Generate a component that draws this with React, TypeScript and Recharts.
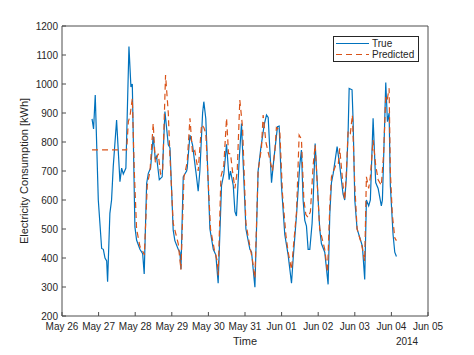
import { LineChart, Line, XAxis, YAxis, Legend, Label } from "recharts";

// hours since May 26 00:00
const trueHours = [19.7, 20.7, 21.8, 23.8, 26.0, 27.1, 28.2, 29.3, 29.9, 31.4, 32.5, 33.6, 35.8, 38.0, 39.1, 40.2, 41.9, 43.9, 45.2, 46.1, 47.8, 48.9, 51.1, 52.9, 53.9, 55.5, 56.6, 58.1, 59.8, 61.2, 62.0, 63.8, 65.7, 67.5, 69.7, 70.8, 72.9, 74.0, 76.2, 77.3, 78.0, 79.5, 81.7, 82.1, 83.9, 85.6, 88.2, 89.3, 90.4, 92.2, 93.0, 94.3, 97.0, 99.2, 100.9, 102.4, 104.6, 106.1, 107.9, 109.6, 110.5, 112.3, 113.4, 114.4, 116.2, 117.7, 120.6, 123.2, 124.3, 126.5, 128.6, 130.4, 132.6, 134.1, 135.2, 137.4, 138.9, 141.3, 142.4, 143.9, 146.1, 148.3, 150.5, 151.6, 153.8, 155.9, 157.0, 158.1, 159.2, 160.3, 161.4, 162.5, 164.0, 164.7, 166.0, 169.0, 170.1, 172.3, 174.5, 175.6, 176.7, 177.8, 180.4, 182.1, 184.3, 185.4, 186.5, 187.6, 188.3, 190.2, 190.9, 192.0, 193.5, 195.3, 197.0, 198.5, 199.6, 201.1, 202.2, 204.0, 205.7, 207.3, 209.4, 210.1, 211.6, 212.3, 213.4, 214.5, 215.3, 217.1, 218.2, 219.3];
const trueValues = [880, 845, 962, 600, 433, 430, 400, 390, 318, 554, 600, 715, 876, 663, 710, 690, 710, 1129, 990, 1000, 508, 462, 430, 415, 345, 657, 692, 710, 820, 740, 750, 670, 680, 905, 790, 780, 497, 460, 430, 420, 361, 680, 700, 710, 824, 790, 680, 630, 700, 900, 939, 880, 500, 430, 410, 313, 650, 690, 792, 670, 700, 650, 560, 545, 740, 864, 500, 430, 420, 299, 700, 780, 860, 893, 885, 660, 740, 853, 855, 650, 480, 410, 313, 400, 550, 720, 772, 600, 530, 510, 430, 430, 520, 600, 795, 500, 450, 420, 309, 550, 660, 690, 784, 720, 620, 600, 680, 830, 985, 980, 870, 600, 500, 470, 440, 326, 600, 580, 600, 882, 660, 640, 580, 600, 870, 1005, 870, 900, 650, 480, 420, 405];

const predHours = [19.7, 42.4, 43.5, 44.6, 46.1, 47.4, 48.9, 51.1, 53.3, 54.0, 55.9, 57.7, 59.8, 61.2, 63.1, 64.6, 66.0, 67.9, 69.7, 70.8, 72.9, 76.2, 78.0, 80.0, 82.1, 83.9, 85.6, 87.1, 89.3, 91.5, 93.0, 94.3, 97.4, 100.2, 101.8, 102.4, 104.2, 106.1, 107.9, 109.2, 110.5, 111.8, 113.4, 114.9, 116.6, 118.4, 120.6, 123.2, 124.7, 126.5, 128.6, 130.8, 131.9, 133.7, 135.4, 136.7, 138.0, 139.6, 140.6, 142.8, 144.6, 146.8, 148.3, 150.5, 151.6, 153.8, 155.5, 157.0, 158.6, 159.9, 161.4, 162.9, 164.7, 166.0, 169.0, 172.3, 174.1, 175.6, 176.7, 179.5, 181.1, 182.1, 184.3, 185.4, 186.5, 187.6, 189.1, 190.4, 192.0, 193.5, 196.3, 198.5, 199.6, 201.1, 202.2, 204.0, 205.7, 207.3, 209.4, 210.9, 212.3, 213.4, 214.5, 215.3, 216.6, 218.2, 219.3];
const predValues = [773, 773, 870, 890, 950, 700, 500, 440, 420, 410, 650, 700, 864, 730, 760, 690, 700, 1031, 900, 750, 520, 450, 360, 680, 730, 882, 760, 770, 700, 860, 850, 830, 500, 420, 390, 340, 680, 720, 882, 760, 760, 700, 640, 700, 945, 850, 520, 440, 400, 330, 700, 780, 893, 800, 760, 730, 700, 770, 850, 840, 620, 480, 420, 360, 430, 560, 824, 810, 600, 550, 540, 560, 720, 790, 500, 430, 350, 580, 680, 720, 720, 778, 650, 600, 700, 840, 830, 893, 650, 500, 450, 390, 680, 640, 680, 807, 720, 670, 650, 760, 960, 950, 985, 700, 550, 470, 460];

const xTicks = [0, 24, 48, 72, 96, 120, 144, 168, 192, 216, 240];
const xTickLabels = ["May 26", "May 27", "May 28", "May 29", "May 30", "May 31", "Jun 01", "Jun 02", "Jun 03", "Jun 04", "Jun 05"];
const yTicks = [200, 300, 400, 500, 600, 700, 800, 900, 1000, 1100, 1200];

const trueData = trueHours.map((t, i) => ({ t, v: trueValues[i] }));
const predData = predHours.map((t, i) => ({ t, v: predValues[i] }));

const font = "'Liberation Sans', Arial, sans-serif";
const axisColor = "#4d4d4d";
const textColor = "#262626";
const tickStyle = { fontSize: 10, fill: textColor, fontFamily: font };

function LegendBox() {
  const row = (color: string, dash: string | undefined, name: string) => (
    <div style={{ display: "flex", alignItems: "center", height: 11 }}>
      <svg width={36} height={11}>
        <line x1={2} y1={5.5} x2={35} y2={5.5} stroke={color} strokeWidth={1.2} strokeDasharray={dash} />
      </svg>
      <span style={{ fontSize: 10, color: textColor, fontFamily: font, marginLeft: 2, lineHeight: "11px" }}>{name}</span>
    </div>
  );
  return (
    <div style={{ border: "1px solid #262626", background: "#fff", padding: "1px 0", boxSizing: "border-box", width: 86, height: 26 }}>
      {row("#0072BD", undefined, "True")}
      {row("#D95319", "6 4", "Predicted")}
    </div>
  );
}

export default function App() {
  return (
    <div style={{ position: "absolute", left: 0, top: 0, width: 474, height: 355, background: "#fff" }}>
      <LineChart width={474} height={355} margin={{ top: 25, right: 45, bottom: 9, left: 22 }}>
        <XAxis
          xAxisId="b"
          type="number"
          dataKey="t"
          domain={[0, 240]}
          ticks={xTicks}
          interval={0}
          tickFormatter={(v: number) => xTickLabels[xTicks.indexOf(v)]}
          height={30}
          tickSize={-4}
          tickMargin={11}
          tick={tickStyle}
          stroke={axisColor}
          tickLine={{ stroke: axisColor }}
        >
          <Label value="Time" position="insideBottom" offset={1} style={{ fontSize: 11, fill: textColor, fontFamily: font }} />
          <Label value="2014" position="insideBottom" offset={1} dx={162} style={{ fontSize: 10, fill: textColor, fontFamily: font }} />
        </XAxis>
        <XAxis
          xAxisId="top"
          orientation="top"
          type="number"
          domain={[0, 240]}
          ticks={xTicks}
          interval={0}
          height={1}
          tickSize={-4}
          tickFormatter={() => ""}
          stroke={axisColor}
        />
        <YAxis
          yAxisId="l"
          domain={[200, 1200]}
          ticks={yTicks}
          interval={0}
          width={40}
          tickSize={-4}
          tickMargin={8}
          tick={tickStyle}
          stroke={axisColor}
        >
          <Label
            value="Electricity Consumption [kWh]"
            angle={-90}
            position="insideLeft"
            offset={2}
            style={{ fontSize: 11, fill: textColor, fontFamily: font, textAnchor: "middle" }}
          />
        </YAxis>
        <YAxis
          yAxisId="r"
          orientation="right"
          domain={[200, 1200]}
          ticks={yTicks}
          interval={0}
          width={1}
          tickSize={-4}
          tickFormatter={() => ""}
          stroke={axisColor}
        />
        <Legend
          layout="vertical"
          align="center"
          verticalAlign="middle"
          content={() => <LegendBox />}
          wrapperStyle={{ left: 333, top: 36, width: 86, height: 26 }}
        />
        <Line
          xAxisId="b"
          yAxisId="l"
          data={trueData}
          dataKey="v"
          name="True"
          type="linear"
          stroke="#0072BD"
          strokeWidth={1.2}
          dot={false}
          isAnimationActive={false}
        />
        <Line
          xAxisId="b"
          yAxisId="l"
          data={predData}
          dataKey="v"
          name="Predicted"
          type="linear"
          stroke="#D95319"
          strokeWidth={1.2}
          strokeDasharray="6 4"
          dot={false}
          isAnimationActive={false}
        />
      </LineChart>
    </div>
  );
}
